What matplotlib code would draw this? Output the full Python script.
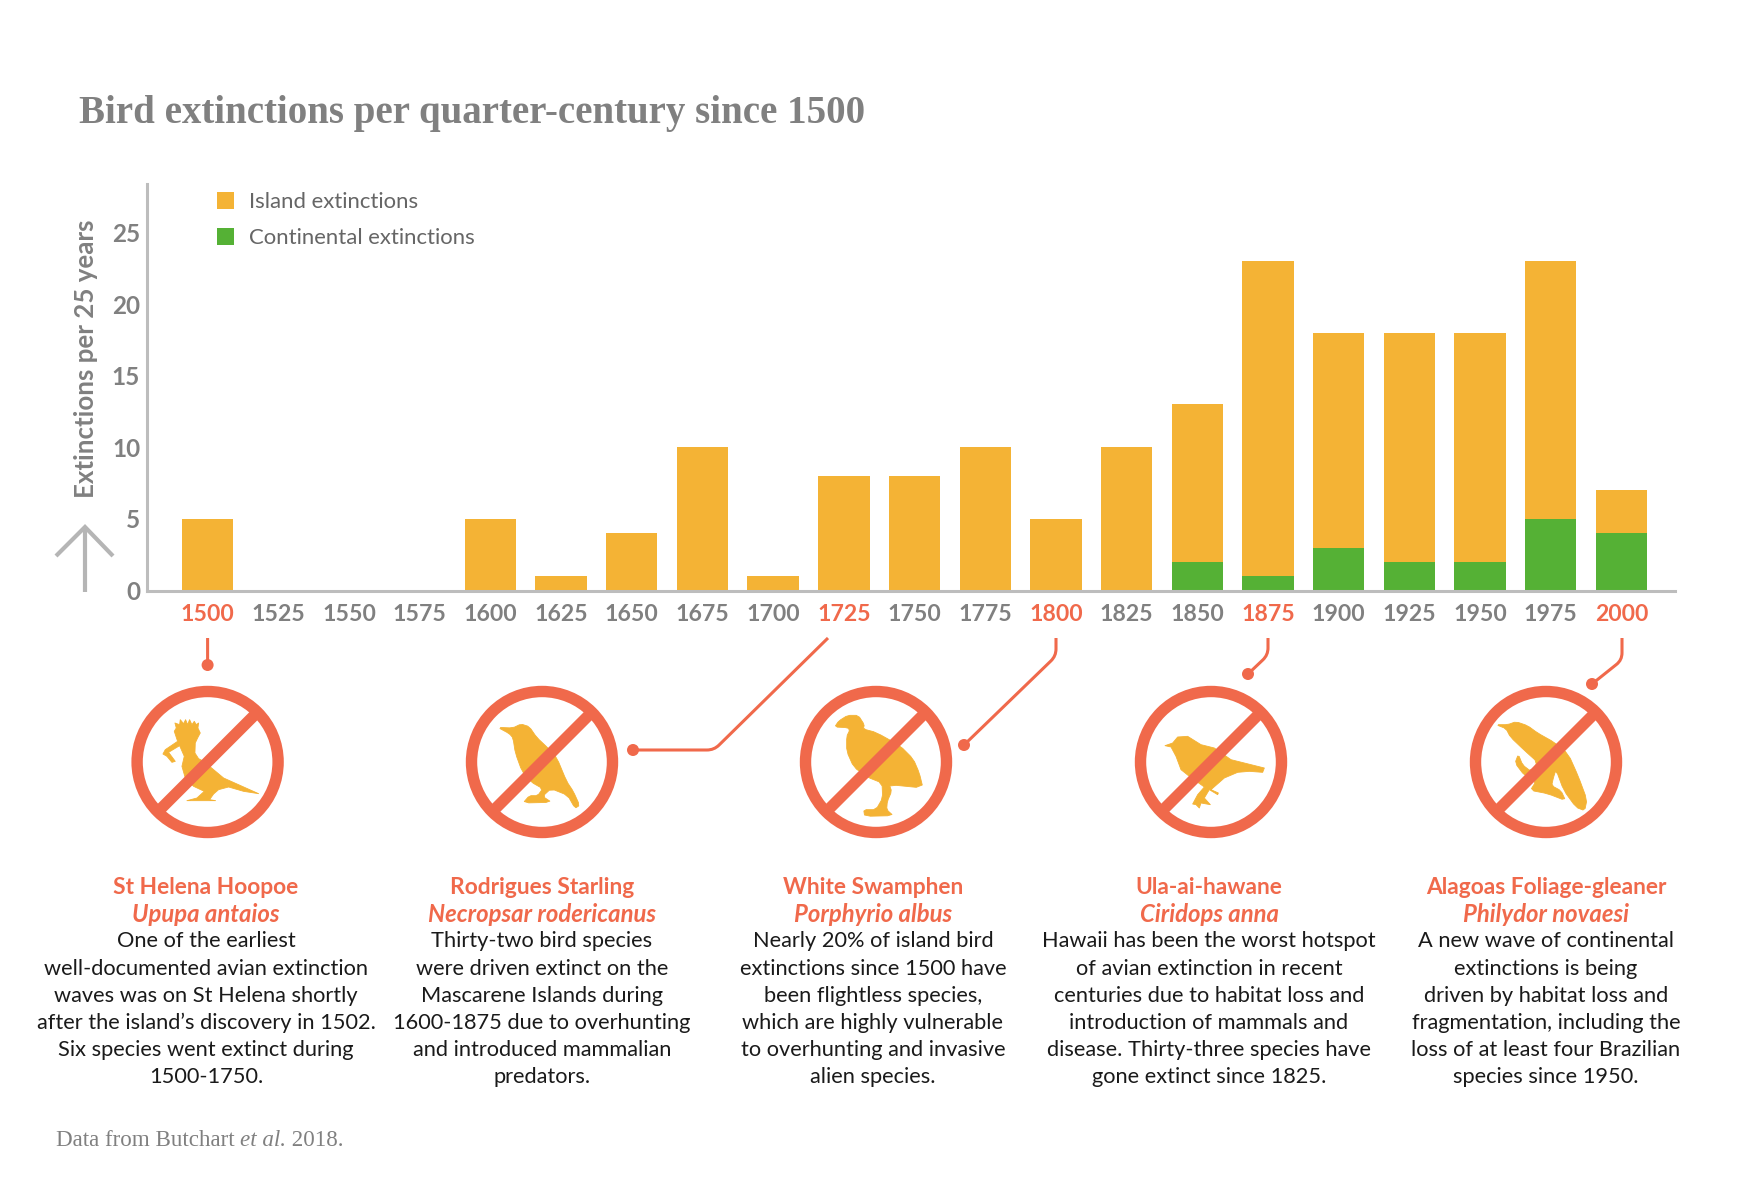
import numpy as np
import matplotlib
matplotlib.use('Agg')
import matplotlib.pyplot as plt
from matplotlib.path import Path
from matplotlib.patches import Circle, PathPatch, Polygon


W, H = 1750, 1201

ORANGE = '#F4B335'
GREEN = '#55B135'
RED = '#F0694B'
GREY = '#808080'
AXIS = '#BDBDBD'
BODY_FONT = 'Lato'

years = [1500, 1525, 1550, 1575, 1600, 1625, 1650, 1675, 1700, 1725, 1750,
         1775, 1800, 1825, 1850, 1875, 1900, 1925, 1950, 1975, 2000]
island = [5, 0, 0, 0, 5, 1, 4, 10, 1, 8, 8, 10, 5, 10, 11, 22, 15, 16, 16, 18, 3]
continental = [0, 0, 0, 0, 0, 0, 0, 0, 0, 0, 0, 0, 0, 0, 2, 1, 3, 2, 2, 5, 4]
highlighted = [1500, 1725, 1800, 1875, 2000]
y_ticks = [0, 5, 10, 15, 20, 25]

names = ['St Helena Hoopoe', 'Rodrigues Starling', 'White Swamphen',
         'Ula-ai-hawane', 'Alagoas Foliage-gleaner']
latin = ['Upupa antaios', 'Necropsar rodericanus', 'Porphyrio albus',
         'Ciridops anna', 'Philydor novaesi']
blurbs = [
    ['One of the earliest', 'well-documented avian extinction',
     'waves was on St Helena shortly', 'after the island\u2019s discovery in 1502.',
     'Six species went extinct during', '1500-1750.'],
    ['Thirty-two bird species', 'were driven extinct on the',
     'Mascarene Islands during', '1600-1875 due to overhunting',
     'and introduced mammalian', 'predators.'],
    ['Nearly 20% of island bird', 'extinctions since 1500 have',
     'been flightless species,', 'which are highly vulnerable',
     'to overhunting and invasive', 'alien species.'],
    ['Hawaii has been the worst hotspot', 'of avian extinction in recent',
     'centuries due to habitat loss and', 'introduction of mammals and',
     'disease. Thirty-three species have', 'gone extinct since 1825.'],
    ['A new wave of continental', 'extinctions is being',
     'driven by habitat loss and', 'fragmentation, including the',
     'loss of at least four Brazilian', 'species since 1950.'],
]
text_x = [206, 542, 873, 1209, 1546]
icon_x = [207.6, 542, 876, 1211, 1546]
icon_y = 762

# silhouettes, traced on a 3x grid around (cx, cy); last item = round the corners
hoopoe = (312, 307, [(222, 245), (212, 215), (218, 205), (214, 190), (228, 195), (230, 180),
    (240, 192), (246, 180), (252, 195), (258, 180), (265, 195), (272, 185), (278, 195),
    (285, 190), (283, 205), (290, 220), (282, 235), (275, 250), (274, 280), (285, 297),
    (300, 305), (360, 355), (465, 402), (420, 395), (375, 382), (345, 390), (330, 403),
    (318, 420), (336, 423), (250, 423), (280, 415), (302, 395), (270, 380), (245, 355),
    (235, 320), (242, 290), (228, 258), (195, 278), (215, 305), (205, 308), (190, 290),
    (178, 283), (185, 270)], False)
starling = (1283, 307, [(1150, 203), (1195, 205), (1220, 193), (1245, 201), (1267, 233),
    (1302, 266), (1327, 293), (1357, 365), (1377, 395), (1396, 437), (1382, 446),
    (1360, 407), (1310, 387), (1285, 410), (1312, 428), (1226, 430), (1245, 408),
    (1270, 408), (1285, 387), (1250, 367), (1223, 335), (1203, 280), (1196, 235), (1185, 222)], True)
swamphen = (280, 397, [(156, 292), (168, 274), (195, 257), (227, 257), (245, 285), (242, 298),
    (280, 308), (352, 348), (392, 388), (410, 430), (421, 475), (320, 465), (327, 485),
    (314, 515), (312, 540), (332, 558), (246, 560), (243, 540), (280, 540), (300, 505),
    (298, 460), (253, 442), (213, 412), (192, 365), (192, 320), (201, 302), (195, 294)], True)
ula = (1250, 397, [(1112, 348), (1135, 340), (1150, 322), (1180, 320), (1220, 345), (1260, 355),
    (1310, 390), (1410, 415), (1405, 428), (1365, 425), (1330, 428), (1290, 445), (1250, 480),
    (1272, 490), (1270, 495), (1245, 480), (1230, 505), (1248, 525), (1220, 520), (1215, 535),
    (1205, 525), (1195, 523), (1210, 495), (1230, 472), (1185, 440), (1160, 420), (1145, 380),
    (1130, 352)], False)
gleaner = (315, 397, [(165, 285), (200, 285), (225, 276), (260, 288), (290, 310), (340, 338),
    (382, 373), (412, 440), (438, 510), (431, 543), (405, 533), (368, 482), (345, 420),
    (337, 445), (332, 468), (360, 483), (374, 513), (320, 492), (268, 482), (285, 455),
    (250, 437), (222, 400), (232, 374), (245, 406), (270, 425), (290, 398), (250, 362),
    (208, 322), (195, 297)], True)
birds = [hoopoe, starling, swamphen, ula, gleaner]

# leader lines: start, bend, end (the end carries the dot)
leaders = [
    [(207.6, 638), (207.6, 650), (207.6, 665)],
    [(828, 638), (714, 750), (633, 750)],
    [(1056, 638), (1056, 656), (964, 745)],
    [(1268, 638), (1268, 655), (1248, 674)],
    [(1622, 638), (1622, 660), (1592, 684)],
]


def chaikin(pts):
    """One corner-cutting pass over a closed outline"""
    nxt = np.roll(pts, -1, axis=0)
    return np.column_stack([0.8 * pts + 0.2 * nxt, 0.2 * pts + 0.8 * nxt]).reshape(-1, 2)


def draw_leader(ax, pts):
    (x0, y0), (x1, y1), (x2, y2) = pts
    a, b = np.array([x0, y0], float), np.array([x1, y1], float)
    c = np.array([x2, y2], float)
    r = 7
    p1 = b + (a - b) / max(np.hypot(*(a - b)), 1e-6) * min(r, np.hypot(*(a - b)))
    p2 = b + (c - b) / np.hypot(*(c - b)) * r
    path = Path([a, p1, b, p2, c],
                [Path.MOVETO, Path.LINETO, Path.CURVE3, Path.CURVE3, Path.LINETO])
    ax.add_patch(PathPatch(path, fc='none', ec=RED, lw=2.2, capstyle='butt'))
    ax.add_patch(Circle(c, 6, fc=RED, ec='none'))


def draw_icon(ax, x, y, bird):
    cx, cy, pts, smooth = bird
    pts = np.array(pts, float)
    if smooth:
        pts = chaikin(pts)
    xy = np.column_stack([x + (pts[:, 0] - cx) / 3, y + (pts[:, 1] - cy) / 3])
    ax.add_patch(Polygon(xy, closed=True, fc=ORANGE, ec=ORANGE, lw=0.6, joinstyle='round'))
    ax.add_patch(Circle((x, y), 70.5, fc='none', ec=RED, lw=8.2))
    d = 70.5 * np.cos(np.pi / 4)
    ax.plot([x - d, x + d], [y + d, y - d], color=RED, lw=8.2, solid_capstyle='butt')


def main():
    fig = plt.figure(figsize=(W / 100, H / 100), dpi=100, facecolor='white')

    # page layer in pixel units, used for everything around the chart
    page = fig.add_axes([0, 0, 1, 1])
    page.set_xlim(0, W)
    page.set_ylim(H, 0)
    page.axis('off')

    left, right, top, base = 147, 1675, 184, 590.5
    ax = fig.add_axes([left / W, 1 - base / H, (right - left) / W, (base - top) / H])
    ax.patch.set_alpha(0)
    x = np.arange(len(years))
    ax.bar(x, continental, width=0.726, color=GREEN, label='Continental extinctions')
    ax.bar(x, island, width=0.726, bottom=continental, color=ORANGE, label='Island extinctions')
    ax.set_xlim(-0.857, 20.757)
    ax.set_ylim(0, 28.4)

    for side in ['top', 'right']:
        ax.spines[side].set_visible(False)
    for side in ['left', 'bottom']:
        ax.spines[side].set_color(AXIS)
        ax.spines[side].set_linewidth(2.2)

    ax.set_xticks(x, [str(y) for y in years])
    ax.set_yticks(y_ticks)
    ax.tick_params(length=0)
    ax.tick_params(axis='x', pad=10)
    ax.tick_params(axis='y', pad=5)
    for lab, yr in zip(ax.get_xticklabels(), years):
        lab.set(fontfamily=BODY_FONT, fontweight='bold', fontsize=16.6,
                color=RED if yr in highlighted else GREY)
    for lab in ax.get_yticklabels():
        lab.set(fontfamily=BODY_FONT, fontweight='bold', fontsize=17.5, color=GREY)

    handles, labels = ax.get_legend_handles_labels()
    leg = ax.legend(handles[::-1], labels[::-1], loc='upper left', frameon=False,
                    bbox_to_anchor=(0.0455, 0.98), handlelength=0.81, handleheight=0.81,
                    handletextpad=0.68, labelspacing=0.72, borderpad=0, borderaxespad=0,
                    prop={'family': BODY_FONT, 'size': 15.9})
    for t in leg.get_texts():
        t.set_color('#666666')

    page.text(79, 113, 'Bird extinctions per quarter-century since 1500',
              fontfamily='Liberation Serif', fontweight='bold', fontsize=28, color=GREY,
              va='center', ha='left')
    page.text(86, 359, 'Extinctions per 25 years', rotation=90, fontfamily=BODY_FONT,
              fontweight='bold', fontsize=18.6, color=GREY, ha='center', va='center')

    # up arrow under the axis title
    page.plot([85, 85], [592, 527], color='#B5B5B5', lw=3, solid_capstyle='butt')
    page.plot([56, 85, 113], [556, 527, 556], color='#B5B5B5', lw=3,
              solid_capstyle='butt', solid_joinstyle='miter')

    for pts in leaders:
        draw_leader(page, pts)
    for ix, bird in zip(icon_x, birds):
        draw_icon(page, ix, icon_y, bird)

    y0, step = 887, 27.2
    for tx, name, sp, blurb in zip(text_x, names, latin, blurbs):
        page.text(tx, y0, name, ha='center', va='center', color=RED, fontfamily=BODY_FONT,
                  fontweight='bold', fontsize=16.4)
        page.text(tx, y0 + step, sp, ha='center', va='center', color=RED, fontfamily=BODY_FONT,
                  fontweight='bold', fontstyle='italic', fontsize=17.2)
        for i, line in enumerate(blurb):
            page.text(tx, y0 + (i + 2) * step, line, ha='center', va='center', color='#1a1a1a',
                      fontfamily=BODY_FONT, fontsize=15.7)

    # footer, with the italic part placed after the measured width of the first part
    kw = dict(fontfamily='Liberation Serif', fontsize=16.6, color='#808080', va='baseline')
    renderer = fig.canvas.get_renderer()
    fx = 56
    for piece, style in [('Data from Butchart\u00a0', 'normal'), ('et al.', 'italic'),
                         ('\u00a02018.', 'normal')]:
        t = page.text(fx, 1146, piece, fontstyle=style, **kw)
        fx += t.get_window_extent(renderer).width

    fig.savefig('out.png', dpi=100)


if __name__ == '__main__':
    main()
